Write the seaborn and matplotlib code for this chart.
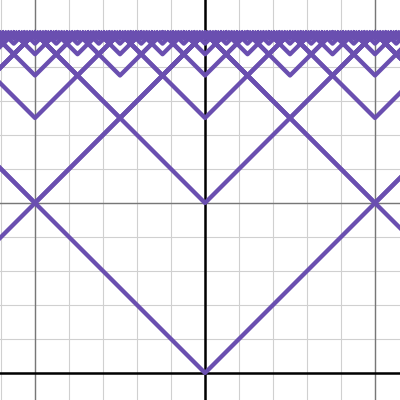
import matplotlib
matplotlib.use("Agg")
import matplotlib.pyplot as plt
import numpy as np
import pandas as pd
import seaborn as sns

# vertex heights and horizontal spacing of each family of V shapes
heights = [0.0, 1.0, 1.5, 1.75, 1.875, 1.9375, 1.96875, 1.984375]
spacings = [2.0, 1.0, 0.5, 0.25, 0.125, 0.0625, 0.03125, 0.015625]
top = 2.0
color = "#6a4fb0"

xmin, xmax = -1.206, 1.147
ymin, ymax = -0.159, 2.194

rows = []
uid = 0
for h, s in zip(heights, spacings):
    arm = top - h
    k0 = int(np.floor((xmin - arm) / s))
    k1 = int(np.ceil((xmax + arm) / s))
    for k in range(k0, k1 + 1):
        c = k * s
        for dx in (-arm, 0, arm):
            rows.append((uid, c + dx, h + abs(dx)))
        uid += 1
df = pd.DataFrame(rows, columns=["unit", "x", "y"])

fig, ax = plt.subplots(figsize=(4, 4), dpi=100)
fig.subplots_adjust(0, 0, 1, 1)
ax.set_xlim(xmin, xmax)
ax.set_ylim(ymin, ymax)

for v in np.arange(-1.2, 1.21, 0.2):
    ax.axvline(v, color="#d0d0d0", lw=0.8, zorder=0)
for v in np.arange(-0.2, 2.21, 0.2):
    ax.axhline(v, color="#d0d0d0", lw=0.8, zorder=0)
for v in (-1, 1):
    ax.axvline(v, color="#777777", lw=1.0, zorder=0)
ax.axhline(1, color="#777777", lw=1.0, zorder=0)
ax.axhline(2, color="#777777", lw=1.0, zorder=0)
ax.axvline(0, color="black", lw=1.8, zorder=1)
ax.axhline(0, color="black", lw=1.8, zorder=1)

sns.lineplot(data=df, x="x", y="y", units="unit", estimator=None, sort=False,
             color=color, lw=3.1, ax=ax, zorder=3)
ax.set_axis_off()
fig.savefig("out.png", dpi=100)
